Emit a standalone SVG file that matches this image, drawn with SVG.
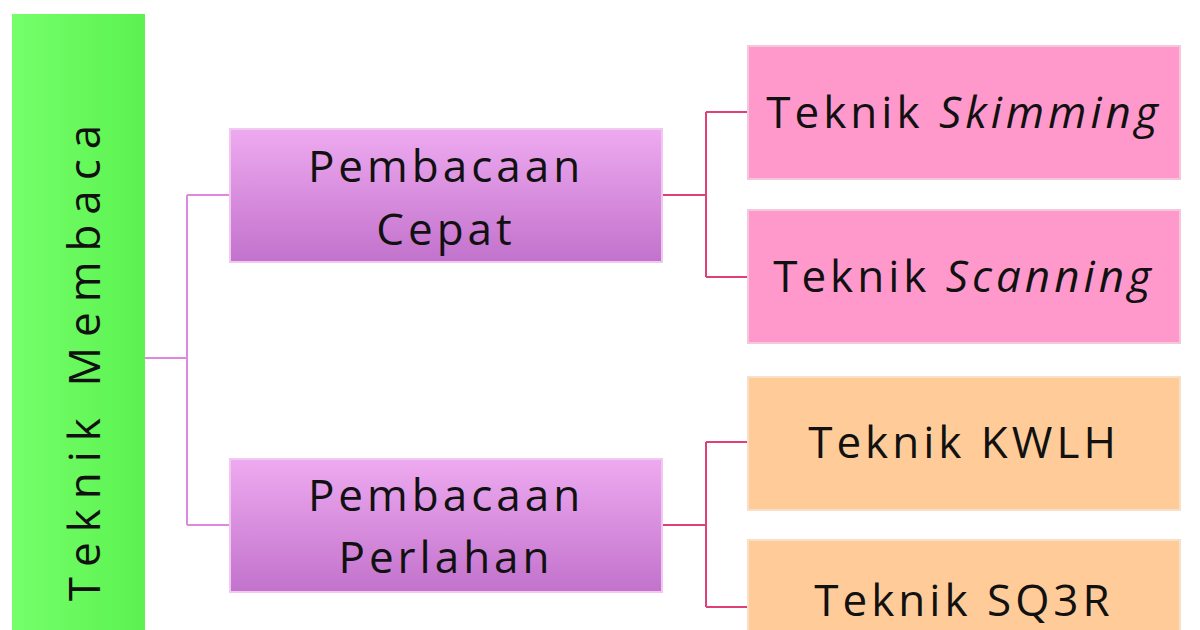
<svg xmlns="http://www.w3.org/2000/svg" width="1200" height="630" viewBox="0 0 1200 630">
<defs>
<linearGradient id="pg" x1="0" y1="0" x2="0" y2="1"><stop offset="0" stop-color="#eeaaf0"/><stop offset="1" stop-color="#c272cc"/></linearGradient>
<linearGradient id="gg" x1="0" y1="0" x2="1" y2="0"><stop offset="0" stop-color="#74ff6a"/><stop offset="1" stop-color="#5cf250"/></linearGradient>
<style>
text{font-family:"Open Sans","DejaVu Sans",sans-serif;fill:#111;text-anchor:middle;font-size:44px;letter-spacing:4px}
.pink{fill:#ff99cc;stroke:#f4c8dc;stroke-width:2}
.org{fill:#ffcc99;stroke:#f8e0c8;stroke-width:2}
.pur{fill:url(#pg);stroke:#f0c8f0;stroke-width:2}
.c1{fill:none;stroke:#e088e0;stroke-width:2}
.c2{fill:none;stroke:#e0407a;stroke-width:2}
</style>
</defs>
<rect width="1200" height="630" fill="#fff"/>
<g id="connectors">
<path class="c1" d="M145 358H187M187 195V525M187 195H230M187 525H230"/>
<path class="c2" d="M662 195H706M706 112V277M706 112H748M706 277H748"/>
<path class="c2" d="M662 525H706M706 442V607M706 442H748M706 607H748"/>
</g>
<g id="root"><rect x="12" y="14" width="133" height="630" fill="url(#gg)"/>
<text transform="translate(100 358) rotate(-90)" font-size="60" style="letter-spacing:10px">Teknik Membaca</text></g>
<g id="cepat"><rect class="pur" x="230" y="129" width="432" height="133"/>
<text x="446" y="182">Pembacaan</text><text x="446" y="245">Cepat</text></g>
<g id="perlahan"><rect class="pur" x="230" y="459" width="432" height="133"/>
<text x="446" y="511">Pembacaan</text><text x="446" y="573">Perlahan</text></g>
<g id="skim"><rect class="pink" x="748" y="46" width="432" height="133"/>
<text x="964" y="128">Teknik <tspan font-style="italic">Skimming</tspan></text></g>
<g id="scan"><rect class="pink" x="748" y="210" width="432" height="133"/>
<text x="964" y="292">Teknik <tspan font-style="italic">Scanning</tspan></text></g>
<g id="kwlh"><rect class="org" x="748" y="377" width="432" height="133"/>
<text x="964" y="458">Teknik KWLH</text></g>
<g id="sq3r"><rect class="org" x="748" y="540" width="432" height="133"/>
<text x="964" y="616">Teknik SQ3R</text></g>
</svg>
